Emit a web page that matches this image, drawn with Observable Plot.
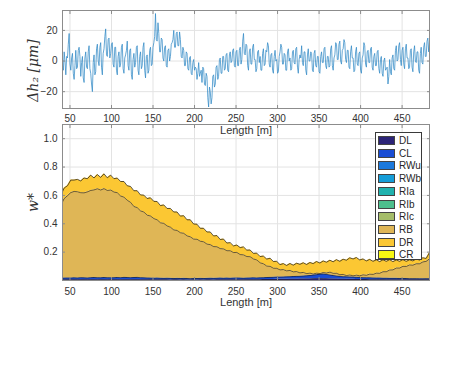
<!DOCTYPE html>
<html><head><meta charset="utf-8">
<script src="https://cdn.jsdelivr.net/npm/d3@7"></script>
<script src="https://cdn.jsdelivr.net/npm/@observablehq/plot@0.6"></script>
<style>
body{margin:0;background:#fff;}
#wrap{position:relative;width:474px;height:381px;overflow:hidden;font-family:"Liberation Sans",Arial,sans-serif;}
#wrap svg{position:absolute;left:0;top:0;background:transparent !important;}
#legend{position:absolute;left:375px;top:132px;width:47px;height:128px;background:#fff;border:1px solid #3a3a3a;box-sizing:border-box;}
#legend .it{position:absolute;left:2px;height:10px;}
#legend .sw{position:absolute;left:0;top:0;width:17px;height:9px;border:1px solid #444;box-sizing:border-box;}
#legend .lb{position:absolute;left:21px;top:-2px;font-size:10px;line-height:13px;color:#262626;}
</style></head><body><div id="wrap"></div><script>
// ---------------- data ----------------
const lengthStart = 41, lengthStep = 1;   // Δh2 sample spacing [m]
const dh2 = [
-3,-6,6,0,-9,3,2,11,18,-2,
-6,2,5,-8,-12,-3,7,-5,-4,7,
9,3,-10,-1,3,-11,-14,2,6,-4,
-5,6,10,-5,-8,-15,-20,-1,4,-9,
-7,8,11,0,-3,9,12,-4,-9,5,
8,16,21,4,3,14,15,2,5,11,
12,-2,-4,9,9,-6,-9,3,6,-4,
-2,9,11,-5,-8,2,4,7,13,-3,
-6,7,8,-9,-12,1,5,-4,-1,9,
10,-6,-9,3,6,-5,-3,9,12,-6,
-11,3,4,-8,-6,7,9,-3,-2,9,
12,16,31,14,13,25,18,6,6,15,
14,2,0,9,10,-3,-4,7,8,0,
3,11,12,14,20,9,9,18,19,10,
10,19,14,3,2,9,7,-3,-3,6,
5,-5,-6,2,3,-8,-9,-1,1,-6,
-4,-5,-12,-8,-1,-10,-8,-6,-14,-4,
-5,-15,-16,-8,-10,-24,-30,-17,-20,-28,
-24,-10,-9,-17,-15,-4,-3,-12,-10,1,
2,-8,-8,3,3,-6,-5,4,5,-6,
-7,4,6,-1,0,7,8,-3,-4,6,
7,-3,-3,7,9,-2,1,13,18,5,
4,11,10,-3,-6,6,8,-2,-2,9,
11,1,1,-7,-5,6,7,-1,3,-6,
-6,5,8,-3,-2,7,6,12,10,-2,
-4,4,5,-6,-8,3,7,0,1,-8,
-7,3,6,11,9,-2,-2,5,4,-6,
-6,6,8,0,2,-6,-5,6,7,-1,
-2,8,9,-4,-8,1,4,2,10,-1,
-3,6,6,-6,-9,4,8,0,0,6,
5,-6,-7,5,7,-3,-4,3,3,-7,
-8,3,6,-1,-1,8,9,-3,-5,3,
3,-4,-3,8,10,-3,-6,2,4,12,
11,1,1,11,13,0,-2,7,8,14,
12,1,-1,7,7,-4,-5,6,10,2,
2,-7,-6,6,9,-2,-3,5,6,-6,
-8,2,4,12,10,-2,-4,6,7,-1,
-1,8,9,-4,-6,3,5,-3,-3,6,
7,-5,-8,1,3,-8,-10,0,2,-6,
-5,-4,-15,-10,1,-7,-9,2,4,-5,
-6,7,10,0,1,10,12,1,-3,7,
9,-2,-5,8,11,2,2,-5,-4,7,
8,-4,-7,6,10,0,-1,6,6,-6,
-8,5,9,-1,-2,9,12,3,3,13,
15,6,13];

const stackStart = 39, stackStep = 4;     // w* sample spacing [m]
// cumulative upper edges of the stacked layers
const dlTop = [
.005,.005,.006,.005,.006,.005,.006,.006,.005,.006,.006,.005,.006,.006,.005,.006,
.006,.006,.005,.006,.006,.005,.006,.006,.005,.005,.005,.006,.005,.005,.005,.005,.005,.004,.005,.005,.004,.005,.004,.004,.005,
.004,.005,.004,.005,.005,.004,.005,.005,.005,.005,.005,.005,.006,.005,.005,.006,.006,.006,.006,.006,.007,.007,.007,.007,.008,
.008,.008,.008,.009,.009,.009,.010,.010,.011,.011,.012,.013,.013,.012,.012,.011,.010,.010,.009,.009,.008,.008,.008,.007,.007,
.007,.007,.006,.006,.006,.006,.006,.005,.005,.005,.005,.005,.005,.005,.005,.005,.005,.005,.005,.005,.005];
const clTop = [
.016,.017,.018,.017,.019,.018,.020,.019,.018,.020,.021,.020,.019,.021,.020,.019,
.020,.021,.020,.022,.021,.020,.021,.022,.020,.019,.018,.017,.016,.017,.016,.015,.016,.015,.014,.015,.014,.015,.014,.013,.014,
.014,.015,.014,.015,.016,.015,.016,.017,.016,.017,.016,.017,.018,.017,.016,.017,.018,.019,.018,.019,.020,.021,.022,.023,.024,
.024,.025,.026,.027,.028,.029,.030,.031,.033,.035,.038,.041,.044,.046,.043,.039,.035,.032,.029,.027,.026,.025,.024,.023,.022,
.020,.019,.019,.018,.017,.017,.016,.016,.015,.015,.015,.014,.014,.014,.013,.013,.013,.012,.012,.013,.012];
const rbTop = [
.530,.578,.598,.620,.628,.626,.619,.618,.625,.635,.639,.647,.638,.648,.635,.638,
.624,.619,.596,.588,.566,.551,.522,.514,.491,.483,.461,.455,.437,.428,.407,.403,.385,.376,.357,.353,.337,.333,.315,.308,.292,
.291,.277,.273,.257,.253,.239,.238,.225,.223,.210,.210,.197,.198,.183,.181,.169,.168,.152,.145,.125,.118,.102,.100,.087,.086,
.075,.077,.068,.071,.061,.063,.054,.057,.049,.052,.046,.052,.049,.056,.053,.059,.051,.051,.041,.043,.035,.039,.033,.038,.033,
.040,.037,.045,.043,.052,.051,.062,.062,.074,.075,.088,.088,.100,.099,.110,.108,.118,.118,.131,.135,.153,.156];
const drTop = [
.600,.652,.668,.708,.708,.713,.702,.723,.718,.743,.723,.747,.727,.752,.724,.743,
.718,.722,.698,.698,.668,.663,.633,.633,.603,.602,.578,.583,.558,.557,.528,.533,.508,.508,.483,.483,.454,.457,.428,.428,.398,
.397,.368,.368,.342,.342,.314,.317,.289,.292,.264,.267,.244,.250,.232,.237,.214,.215,.191,.193,.169,.172,.151,.157,.134,.135,
.112,.119,.106,.120,.108,.122,.114,.125,.113,.127,.119,.134,.123,.138,.129,.143,.132,.147,.135,.150,.143,.160,.152,.162,.145,
.152,.138,.149,.135,.146,.133,.146,.135,.147,.133,.145,.135,.147,.135,.146,.138,.152,.144,.160,.156,.197,.210,.205];

const categories = ["DL","CL","RWu","RWb","RIa","RIb","RIc","RB","DR","CR"];
const catColors  = ["#2c2478","#1a4dd4","#1c79dc","#159dd8","#20b2ae","#4dbf8d","#a5bd69","#dfb656","#fbc733","#f7f712"];
const lengthTicks = [50,100,150,200,250,300,350,400,450];
const dhTicks = [-20,0,20];
const wTicks = [0.2,0.4,0.6,0.8,1];

// ---------------- build ----------------
const sig = dh2.map((v,i)=>({x: lengthStart + i*lengthStep, y: v}));
const rows = dlTop.map((d,i)=>({x: stackStart + i*stackStep, dl: d, cl: clTop[i], rb: rbTop[i], dr: drTop[i]}));
const color = c => catColors[categories.indexOf(c)];

const W = 474, H = 381;
const font = "Liberation Sans, Arial, sans-serif";
const axisCol = "#8c8c8c", gridCol = "#e3e3e3", txt = "#333333";

function boxTicks(xt, yt){
  return [
    Plot.axisX(xt, {anchor:"bottom", tickSize:-3, fill:"none", stroke: axisCol}),
    Plot.axisX(xt, {anchor:"top", tickSize:-3, fill:"none", stroke: axisCol}),
    Plot.axisY(yt, {anchor:"left", tickSize:-3, fill:"none", stroke: axisCol}),
    Plot.axisY(yt, {anchor:"right", tickSize:-3, fill:"none", stroke: axisCol})
  ];
}

const topPlot = Plot.plot({
  width: W, height: H,
  marginLeft: 62, marginRight: 45, marginTop: 10, marginBottom: 273,
  style: {background:"transparent", fontFamily: font, fontSize:"10px", color: txt},
  x: {domain:[41,483]},
  y: {domain:[-31,33]},
  marks: [
    Plot.gridX(lengthTicks, {stroke: gridCol, strokeOpacity:1}),
    Plot.gridY(dhTicks, {stroke: gridCol, strokeOpacity:1}),
    Plot.line(sig, {x:"x", y:"y", stroke:"#3189c6", strokeWidth:0.75, clip:true}),
    Plot.frame({stroke: axisCol}),
    ...boxTicks(lengthTicks, dhTicks),
    Plot.axisX(lengthTicks, {anchor:"bottom", tickSize:0, tickPadding:6, label:null, fill: txt}),
    Plot.axisY(dhTicks, {anchor:"left", tickSize:0, tickPadding:5, label:null, fill: txt}),
    Plot.text(["Length [m]"], {frameAnchor:"bottom", dy:25, fontSize:11, fill: txt}),
    Plot.text(["Δh₂ [μm]"], {frameAnchor:"left", textAnchor:"middle", rotate:-90, dx:-29, dy:11, fontSize:14, fontStyle:"italic", fontFamily:"DejaVu Serif, serif", fill: txt})
  ]
});

const botPlot = Plot.plot({
  width: W, height: H,
  marginLeft: 62, marginRight: 45, marginTop: 124, marginBottom: 101,
  style: {background:"transparent", fontFamily: font, fontSize:"10px", color: txt},
  x: {domain:[41,483]},
  y: {domain:[0,1.1]},
  marks: [
    Plot.gridX(lengthTicks, {stroke: gridCol, strokeOpacity:1}),
    Plot.gridY(wTicks, {stroke: gridCol, strokeOpacity:1}),
    Plot.areaY(rows, {x:"x", y1:0, y2:"dl", fill: color("DL"), clip:true}),
    Plot.areaY(rows, {x:"x", y1:"dl", y2:"cl", fill: color("CL"), clip:true}),
    Plot.areaY(rows, {x:"x", y1:"cl", y2:"rb", fill: color("RB"), clip:true}),
    Plot.areaY(rows, {x:"x", y1:"rb", y2:"dr", fill: color("DR"), clip:true}),
    Plot.line(rows, {x:"x", y:"dl", stroke:"#1a1a1a", strokeWidth:0.5, clip:true}),
    Plot.line(rows, {x:"x", y:"cl", stroke:"#1a1a1a", strokeWidth:0.6, clip:true}),
    Plot.line(rows, {x:"x", y:"rb", stroke:"#1a1a1a", strokeWidth:0.6, clip:true}),
    Plot.line(rows, {x:"x", y:"dr", stroke:"#1a1a1a", strokeWidth:0.7, clip:true}),
    Plot.frame({stroke: axisCol}),
    ...boxTicks(lengthTicks, wTicks),
    Plot.axisX(lengthTicks, {anchor:"bottom", tickSize:0, tickPadding:7, label:null, fill: txt}),
    Plot.axisY(wTicks, {anchor:"left", tickSize:0, tickPadding:5, label:null, fill: txt}),
    Plot.text(["Length [m]"], {frameAnchor:"bottom", dy:25, fontSize:11, fill: txt}),
    Plot.text(["w*"], {frameAnchor:"left", textAnchor:"middle", rotate:-90, dx:-29, fontSize:14, fontStyle:"italic", fontFamily:"DejaVu Serif, serif", fill: txt})
  ]
});

const wrap = document.getElementById("wrap");
wrap.appendChild(botPlot);
wrap.appendChild(topPlot);

// legend
const leg = document.createElement("div");
leg.id = "legend";
categories.forEach((c,i)=>{
  const it = document.createElement("div");
  it.className = "it";
  it.style.top = (3 + i*12.7) + "px";
  const sw = document.createElement("div");
  sw.className = "sw"; sw.style.background = catColors[i];
  const lb = document.createElement("div");
  lb.className = "lb"; lb.textContent = c;
  it.appendChild(sw); it.appendChild(lb);
  leg.appendChild(it);
});
wrap.appendChild(leg);
</script></body></html>
